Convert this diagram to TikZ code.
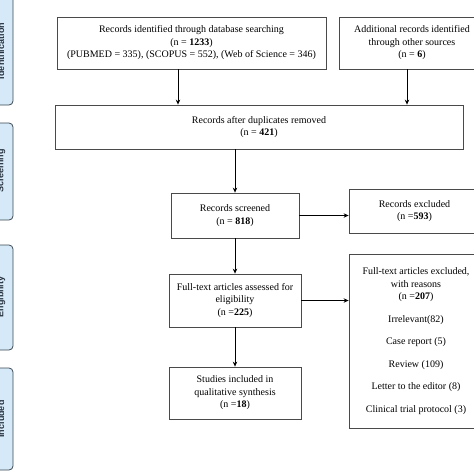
\documentclass[tikz,border=0pt]{standalone}
\usepackage{fontspec}
\setmainfont{Liberation Serif}
\newfontfamily\labelfont{Liberation Sans}
\usetikzlibrary{arrows.meta}
\definecolor{stagefill}{HTML}{D5E9F8}
\definecolor{stagedraw}{HTML}{3E4852}
\definecolor{stagetext}{HTML}{2A3440}
\definecolor{boxdraw}{HTML}{4A4A4A}
\begin{document}
\begin{tikzpicture}[x=1pt,y=-1pt,
  box/.style={draw=boxdraw,line width=0.8pt,rectangle,align=center,inner sep=0pt,
    font=\fontsize{10}{12.5}\selectfont,text=black},
  stage/.style={draw=stagedraw,fill=stagefill,line width=0.8pt,rounded corners=4pt},
  stagelabel/.style={rotate=90,font=\labelfont\bfseries\fontsize{9}{11}\selectfont,text=stagetext},
  arr/.style={draw=black,line width=0.9pt,-{Stealth[length=5pt,width=4.5pt]}}]
\useasboundingbox (0,0) rectangle (474,474);
% stage bars
\draw[stage] (-20,-10) rectangle (13,105);
\draw[stage] (-20,123) rectangle (13,220);
\draw[stage] (-20,245) rectangle (13,350);
\draw[stage] (-20,368) rectangle (13,470);
\node[stagelabel] (sid) at (1,51) {Identification};
\node[stagelabel] (ssc) at (1,171) {Screening};
\node[stagelabel] (sel) at (1,297) {Eligibility};
\node[stagelabel] (sin) at (1,419) {Included};
% boxes
\node[box,minimum width=269pt,minimum height=52pt] (b1) at (191.5,43)
  {Records identified through database searching\\(n = \textbf{1233})\\(PUBMED = 335), (SCOPUS = 552), (Web of Science = 346)};
\node[box,minimum width=146pt,minimum height=52pt] (b2) at (412,43)
  {Additional records identified\\through other sources\\(n = \textbf{6})};
\node[box,minimum width=408pt,minimum height=44pt] (b3) at (259,127)
  {Records after duplicates removed\\(n = \textbf{421})};
\node[box,minimum width=128pt,minimum height=45pt] (b4) at (235,215.5)
  {Records screened\\(n = \textbf{818})};
\node[box,minimum width=131pt,minimum height=44pt] (b5) at (414.5,211)
  {Records excluded\\(n =\textbf{593})};
\node[box,minimum width=132pt,minimum height=53pt] (b6) at (235,300.5)
  {Full-text articles assessed for\\eligibility\\(n =\textbf{225})};
\node[box,minimum width=134pt,minimum height=174pt] (b7) at (416,341)
  {Full-text articles excluded,\\with reasons\\(n =\textbf{207})\\[10pt]Irrelevant(82)\\[10pt]Case report (5)\\[10pt]Review (109)\\[10pt]Letter to the editor (8)\\[10pt]Clinical trial protocol (3)};
\node[box,minimum width=132pt,minimum height=52pt] (b8) at (235,393)
  {Studies included in\\qualitative synthesis\\(n =\textbf{18})};
% connectors
\coordinate (a1) at (178,0);
\coordinate (a2) at (407,0);
\draw[arr] (b1.south -| a1) -- (b3.north -| a1);
\draw[arr] (b2.south -| a2) -- (b3.north -| a2);
\draw[arr] (b3.south -| b4) -- (b4.north);
\draw[arr] (b4.east) -- (b4.east -| b5.west);
\draw[arr] (b4.south) -- (b6.north);
\draw[arr] (b6.east) -- (b6.east -| b7.west);
\draw[arr] (b6.south) -- (b8.north);
\end{tikzpicture}
\end{document}
